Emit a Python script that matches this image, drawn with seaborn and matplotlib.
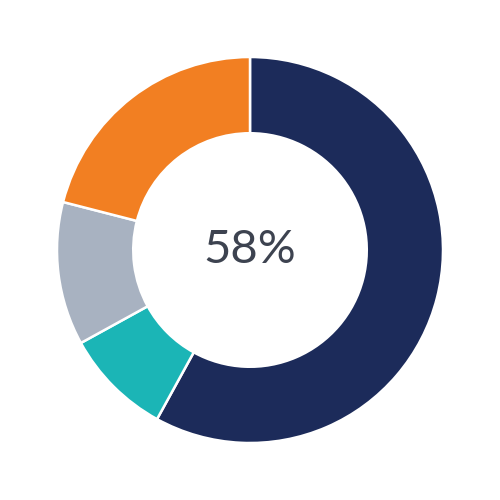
import matplotlib
matplotlib.use("Agg")
import matplotlib.pyplot as plt
import seaborn as sns

# slice values (percent), clockwise from 12 o'clock
labels = ["Navy", "Teal", "Gray", "Orange"]
values = [58, 9, 12, 21]
colors = ["#1c2b5a", "#1bb5b6", "#a8b2c1", "#f27f22"]
center_text = "58%"

sns.set_theme(style="white")
plt.rcParams["font.family"] = ["Lato", "DejaVu Sans"]

fig = plt.figure(figsize=(5, 5), dpi=100)
ax = fig.add_axes([0, 0, 1, 1])

ax.pie(values, colors=colors, startangle=90, counterclock=False,
       radius=1.0,
       wedgeprops=dict(width=0.395, edgecolor="white", linewidth=1.8))

ax.text(0, 0, center_text, ha="center", va="center",
        fontsize=34, color="#3d4350")

lim = 250 / 193
ax.set_xlim(-lim, lim)
ax.set_ylim(-lim, lim)
ax.set_aspect("equal")
ax.axis("off")

fig.savefig("out.png", dpi=100, facecolor="white")
